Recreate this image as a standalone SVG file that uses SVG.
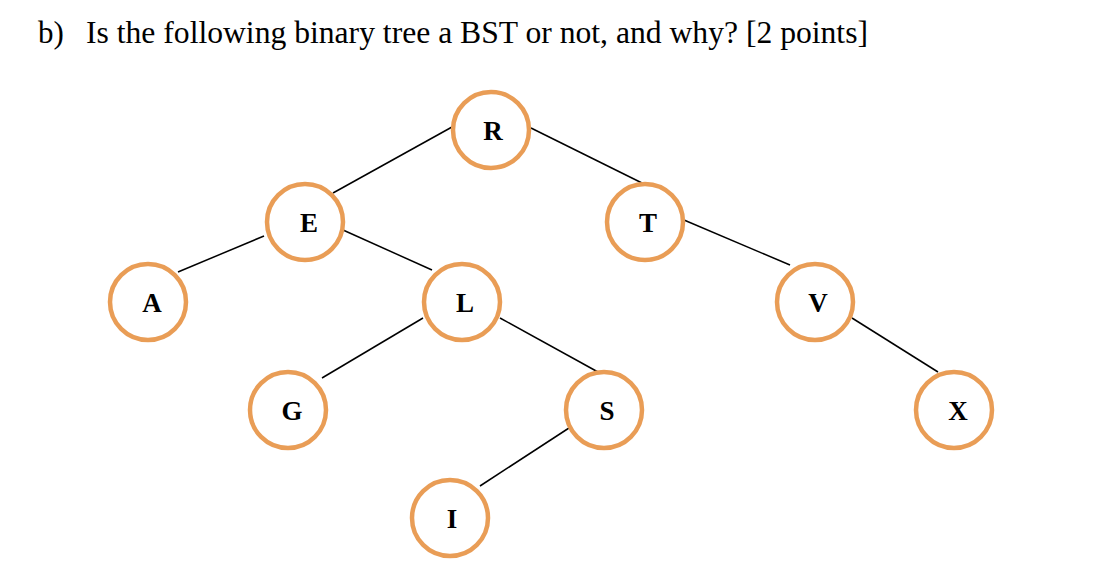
<svg xmlns="http://www.w3.org/2000/svg" width="1102" height="576" viewBox="0 0 1102 576">
<style>
.n circle{fill:#fff;stroke:#E99D56;stroke-width:4.5}
.n text{font-family:"Liberation Serif",serif;font-weight:bold;font-size:27px;text-anchor:middle;fill:#000}
#edges line{stroke:#000;stroke-width:1.5}
.t{font-family:"Liberation Serif",serif;font-size:31px;fill:#000}
</style>
<rect width="1102" height="576" fill="#fff"/>
<text class="t" x="38" y="43">b)</text>
<text class="t" x="86" y="43" textLength="782" lengthAdjust="spacingAndGlyphs">Is the following binary tree a BST or not, and why? [2 points]</text>
<g id="edges">
<line x1="452" y1="127" x2="333" y2="193"/>
<line x1="531" y1="128" x2="642" y2="183"/>
<line x1="264" y1="236" x2="178" y2="272"/>
<line x1="343" y1="230" x2="432" y2="270"/>
<line x1="684" y1="220" x2="790" y2="265"/>
<line x1="423" y1="318" x2="322" y2="378"/>
<line x1="500" y1="318" x2="598" y2="372"/>
<line x1="852" y1="318" x2="938" y2="372"/>
<line x1="569" y1="428" x2="480" y2="486"/>
</g>
<g id="R" class="n"><circle cx="491" cy="130" r="38"/><text x="493" y="140">R</text></g>
<g id="E" class="n"><circle cx="305" cy="222" r="38"/><text x="309" y="232">E</text></g>
<g id="T" class="n"><circle cx="645" cy="222" r="38"/><text x="648" y="232">T</text></g>
<g id="A" class="n"><circle cx="148" cy="302" r="38"/><text x="152" y="312">A</text></g>
<g id="L" class="n"><circle cx="462" cy="302" r="38"/><text x="465" y="312">L</text></g>
<g id="V" class="n"><circle cx="815" cy="302" r="38"/><text x="818" y="312">V</text></g>
<g id="G" class="n"><circle cx="288" cy="410" r="38"/><text x="292" y="420">G</text></g>
<g id="S" class="n"><circle cx="604" cy="410" r="38"/><text x="607" y="420">S</text></g>
<g id="X" class="n"><circle cx="954" cy="410" r="38"/><text x="958" y="420">X</text></g>
<g id="I" class="n"><circle cx="450" cy="518" r="38"/><text x="452" y="528">I</text></g>
</svg>
